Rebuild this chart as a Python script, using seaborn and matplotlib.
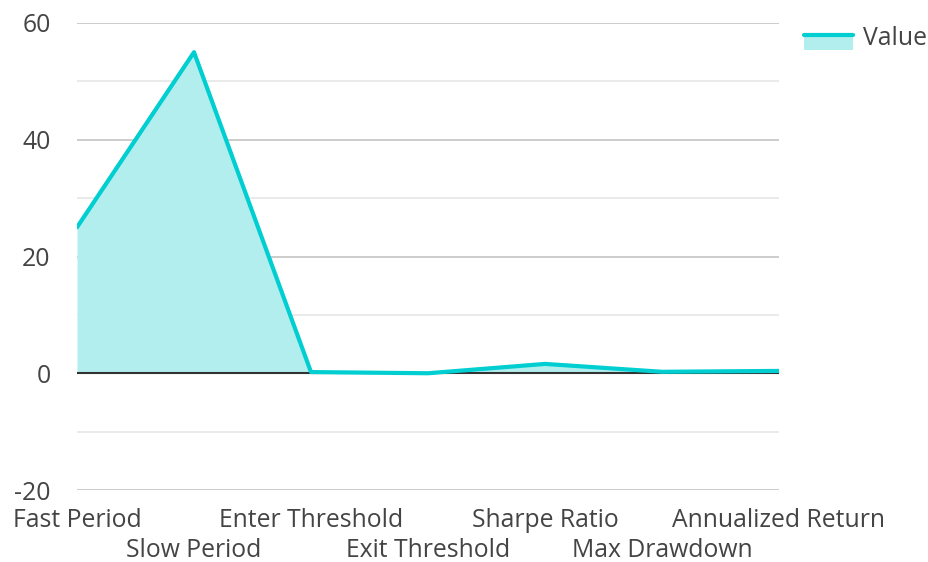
import matplotlib
matplotlib.use("Agg")
import matplotlib.pyplot as plt
import seaborn as sns
import pandas as pd
from matplotlib.lines import Line2D
from matplotlib.patches import Rectangle
from matplotlib.legend_handler import HandlerBase

categories = ["Fast Period", "Slow Period", "Enter Threshold", "Exit Threshold",
              "Sharpe Ratio", "Max Drawdown", "Annualized Return"]
values = [25, 55, 0.2, 0.0, 1.6, 0.25, 0.4]
series_name = "Value"

line_color = "#00CED1"
fill_color = "#B2EEEE"
text_color = "#444444"
FS = 17.8

sns.set_style("white")
plt.rcParams["font.family"] = ["Open Sans", "DejaVu Sans"]

df = pd.DataFrame({"metric": categories, "value": values, "pos": range(len(categories))})

fig = plt.figure(figsize=(9.29, 5.62), dpi=100)
ax = fig.add_axes([77 / 929, 1 - 490 / 562, (779 - 77) / 929, (490 - 23) / 562])

# grid: major and minor horizontal lines
for y in [-20, 20, 40, 60]:
    ax.axhline(y, color="#C4C4C4", lw=1.2, zorder=0)
for y in [-10, 10, 30, 50]:
    ax.axhline(y, color="#E6E6E6", lw=1.2, zorder=0)

ax.fill_between(df["pos"], df["value"], 0, color=fill_color, lw=0, zorder=1)
ax.axhline(0, color="#333333", lw=1.5, zorder=2)
sns.lineplot(data=df, x="pos", y="value", color=line_color, lw=3, ax=ax,
             zorder=3, legend=False)

ax.set_xlim(0, len(categories) - 1)
ax.set_ylim(-20, 60)
ax.set_yticks([-20, 0, 20, 40, 60])
ax.set_yticklabels(["-20", "0", "20", "40", "60"])
ax.set_xticks(df["pos"])
ax.set_xticklabels(categories)
ax.tick_params(axis="both", length=0, labelsize=FS, colors=text_color)
ax.tick_params(axis="y", pad=19)
# staggered category labels: every other one on a second row
for i, tick in enumerate(ax.xaxis.get_major_ticks()):
    tick.set_pad(13 if i % 2 == 0 else 34.5)
ax.set_xlabel("")
ax.set_ylabel("")
for s in ax.spines.values():
    s.set_visible(False)


class AreaHandler(HandlerBase):
    """Legend key: filled band with the series line along its top edge."""

    def create_artists(self, legend, orig_handle, xdescent, ydescent,
                       width, height, fontsize, trans):
        y0 = -ydescent - 4.3
        rect = Rectangle((-xdescent, y0), width, height,
                         facecolor=fill_color, edgecolor="none", transform=trans)
        line = Line2D([-xdescent, -xdescent + width],
                      [y0 + height, y0 + height],
                      color=line_color, lw=3, transform=trans)
        return [rect, line]


handle = Line2D([0], [0], color=line_color, lw=3)
leg = fig.legend([handle], [series_name], loc="upper left",
                 bbox_to_anchor=(804 / 929, 1 - 26 / 562), frameon=False,
                 borderpad=0, borderaxespad=0,
                 handler_map={Line2D: AreaHandler()},
                 handlelength=2.0, handleheight=0.57, fontsize=FS,
                 labelcolor=text_color, handletextpad=0.4)

fig.savefig("out.png", dpi=100)
